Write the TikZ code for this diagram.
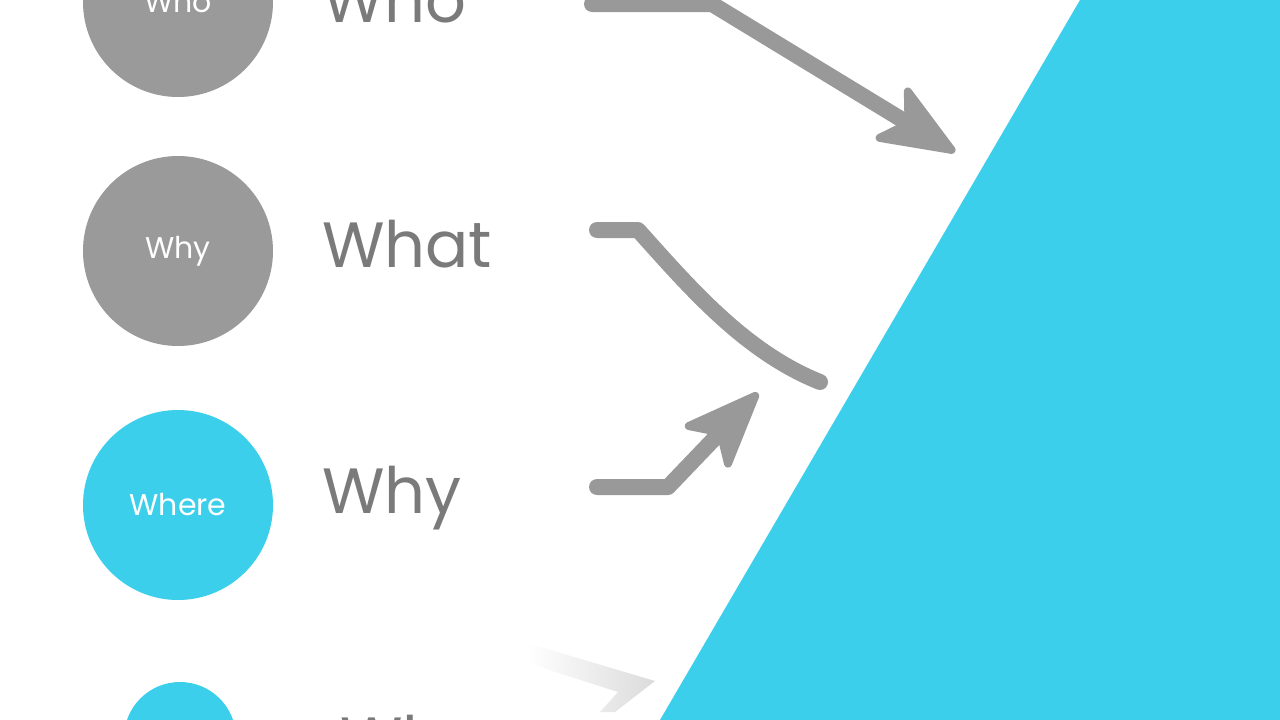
\documentclass[tikz,border=0pt]{standalone}
\usepackage{fontspec}
\setmainfont{Poppins}
\usetikzlibrary{arrows.meta}
\definecolor{skyblue}{RGB}{59,207,235}
\definecolor{circlegray}{RGB}{154,154,154}
\definecolor{labelgray}{RGB}{122,122,122}
\definecolor{arrowgray}{RGB}{153,153,153}

\begin{document}
\begin{tikzpicture}[x=1pt, y=1pt,
  bubble/.style={circle, minimum size=190pt, inner sep=0pt, text=white, font=\fontsize{30}{36}\selectfont},
  word/.style={anchor=base west, inner sep=0pt, text=labelgray, font=\fontsize{64}{72}\selectfont},
  flow/.style={draw=arrowgray, line width=16pt, line cap=round, line join=round},
  head/.style={-{Stealth[length=88pt, width=70pt, inset=22pt, line width=8pt, round]}}
]
%
\useasboundingbox (0,0) rectangle (1280,-720);
\clip (0,0) rectangle (1280,-720);

%%% blue wedge
\fill [skyblue] (1080,0) -- (1280,0) -- (1280,-720) -- (660,-720) -- cycle;

%%% circles
\node [bubble, fill=circlegray] (who) at (178,-2) {Who};
\node [bubble, fill=circlegray] (why) at (178,-251) {Why};
\node [bubble, fill=skyblue] (where) at (178,-505) {Where};
\node [bubble, fill=skyblue, minimum size=112pt] (when) at (180,-738) {};

%%% words
\node [word] (who-label) at (322,-22) {Who};
\node [word] (what-label) at (322,-267) {What};
\node [word] (why-label) at (322,-513) {Why};
\node [word] (when-label) at (340,-762) {When};

%%% arrow ends
\coordinate (who-start) at (592,-4);
\coordinate (who-bend) at (712,-4);
\coordinate (who-tip) at (955,-152);
\coordinate (what-start) at (597,-230);
\coordinate (what-bend) at (638,-230);
\coordinate (what-end) at (820,-382);
\coordinate (why-start) at (597,-487);
\coordinate (why-bend) at (668,-487);
\coordinate (why-tip) at (758,-393);

%%% connections, arrows
\draw [flow, head] (who-start) -- (who-bend) -- (who-tip);
\draw [flow] (what-start) -- (what-bend) .. controls (690,-288) and (745,-352) .. (what-end);
\draw [flow, head] (why-start) -- (why-bend) -- (why-tip);

%%% faded chevron
\shade [left color=white, right color=gray!28] (527,-643) -- (655,-681) -- (615,-712) -- (600,-712) -- (618,-692) -- (527,-663) -- cycle;

\end{tikzpicture}
\end{document}
